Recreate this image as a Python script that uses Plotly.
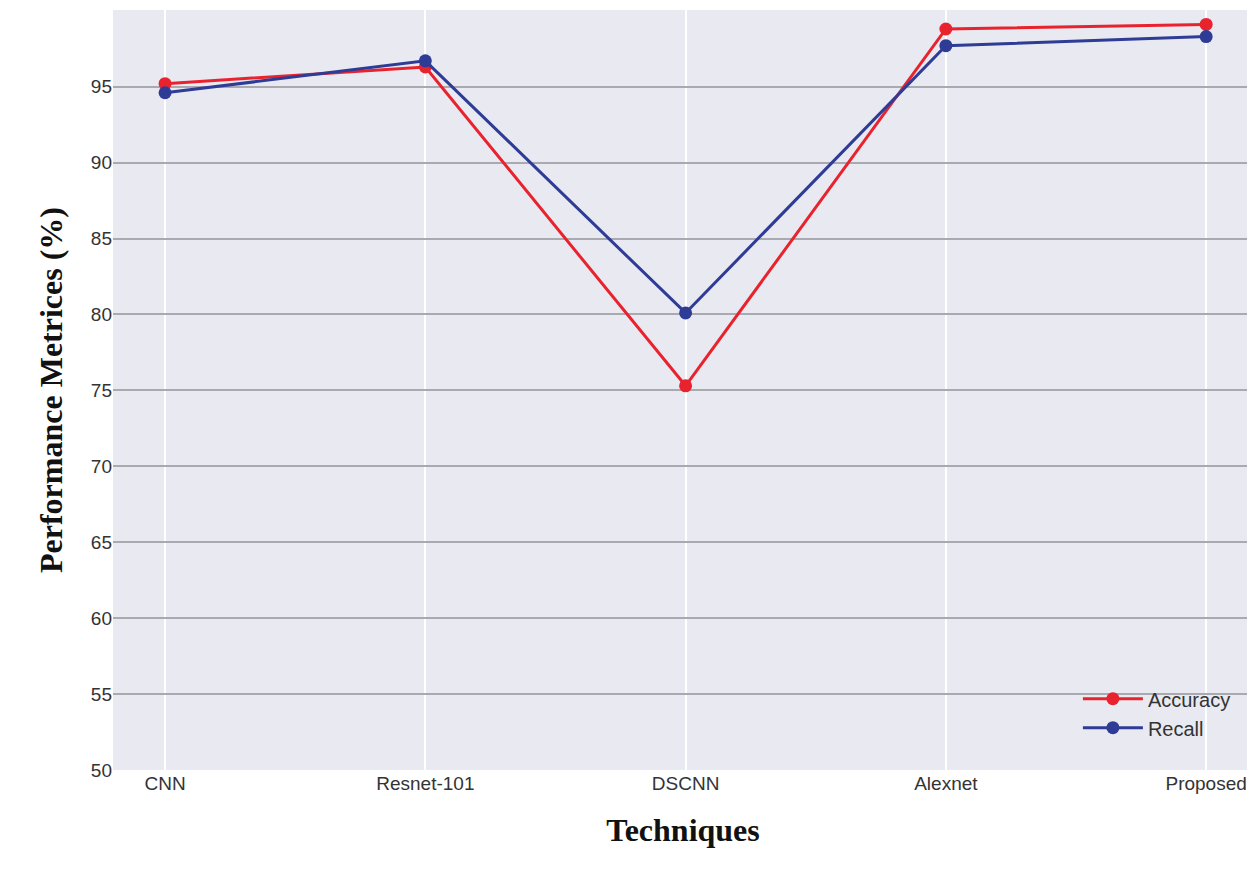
import plotly.graph_objects as go

techniques = ["CNN", "Resnet-101", "DSCNN", "Alexnet", "Proposed"]
accuracy = [95.2, 96.3, 75.3, 98.8, 99.1]
recall = [94.6, 96.7, 80.1, 97.7, 98.3]

fig = go.Figure()
fig.add_trace(go.Scatter(x=list(range(5)), y=accuracy, name="Accuracy", mode="lines+markers",
                         line=dict(color="#e8232e", width=3), marker=dict(size=13, color="#e8232e")))
fig.add_trace(go.Scatter(x=list(range(5)), y=recall, name="Recall", mode="lines+markers",
                         line=dict(color="#2e3c96", width=3), marker=dict(size=13, color="#2e3c96")))
fig.update_layout(
    width=1255, height=876, margin=dict(l=105, r=10, t=2, b=114),
    paper_bgcolor="white", plot_bgcolor="#e9e9f1",
    font=dict(family="Liberation Sans, Arial", size=19, color="#333"),
    showlegend=True,
    legend=dict(x=0.985, y=0.03, xanchor="right", yanchor="bottom", bgcolor="rgba(0,0,0,0)",
                font=dict(size=20, color="#333"), tracegroupgap=8, itemwidth=60),
)
fig.update_xaxes(tickmode="array", tickvals=list(range(5)), ticktext=techniques, range=[-0.2, 4.18],
                 showgrid=True, gridcolor="white", gridwidth=1.5, zeroline=False,
                 title=dict(text="<b>Techniques</b>", font=dict(family="Liberation Serif, Times New Roman", size=32, color="#111"), standoff=25))
fig.update_yaxes(range=[50, 100.05], tickvals=list(range(50, 101, 5)), showgrid=True, gridcolor="#a9a9b0", gridwidth=2, zeroline=False,
                 ticks="", title=dict(text="<b>Performance Metrices (%)</b>", font=dict(family="Liberation Serif, Times New Roman", size=32, color="#111"), standoff=18))
fig.write_html("out.html")
